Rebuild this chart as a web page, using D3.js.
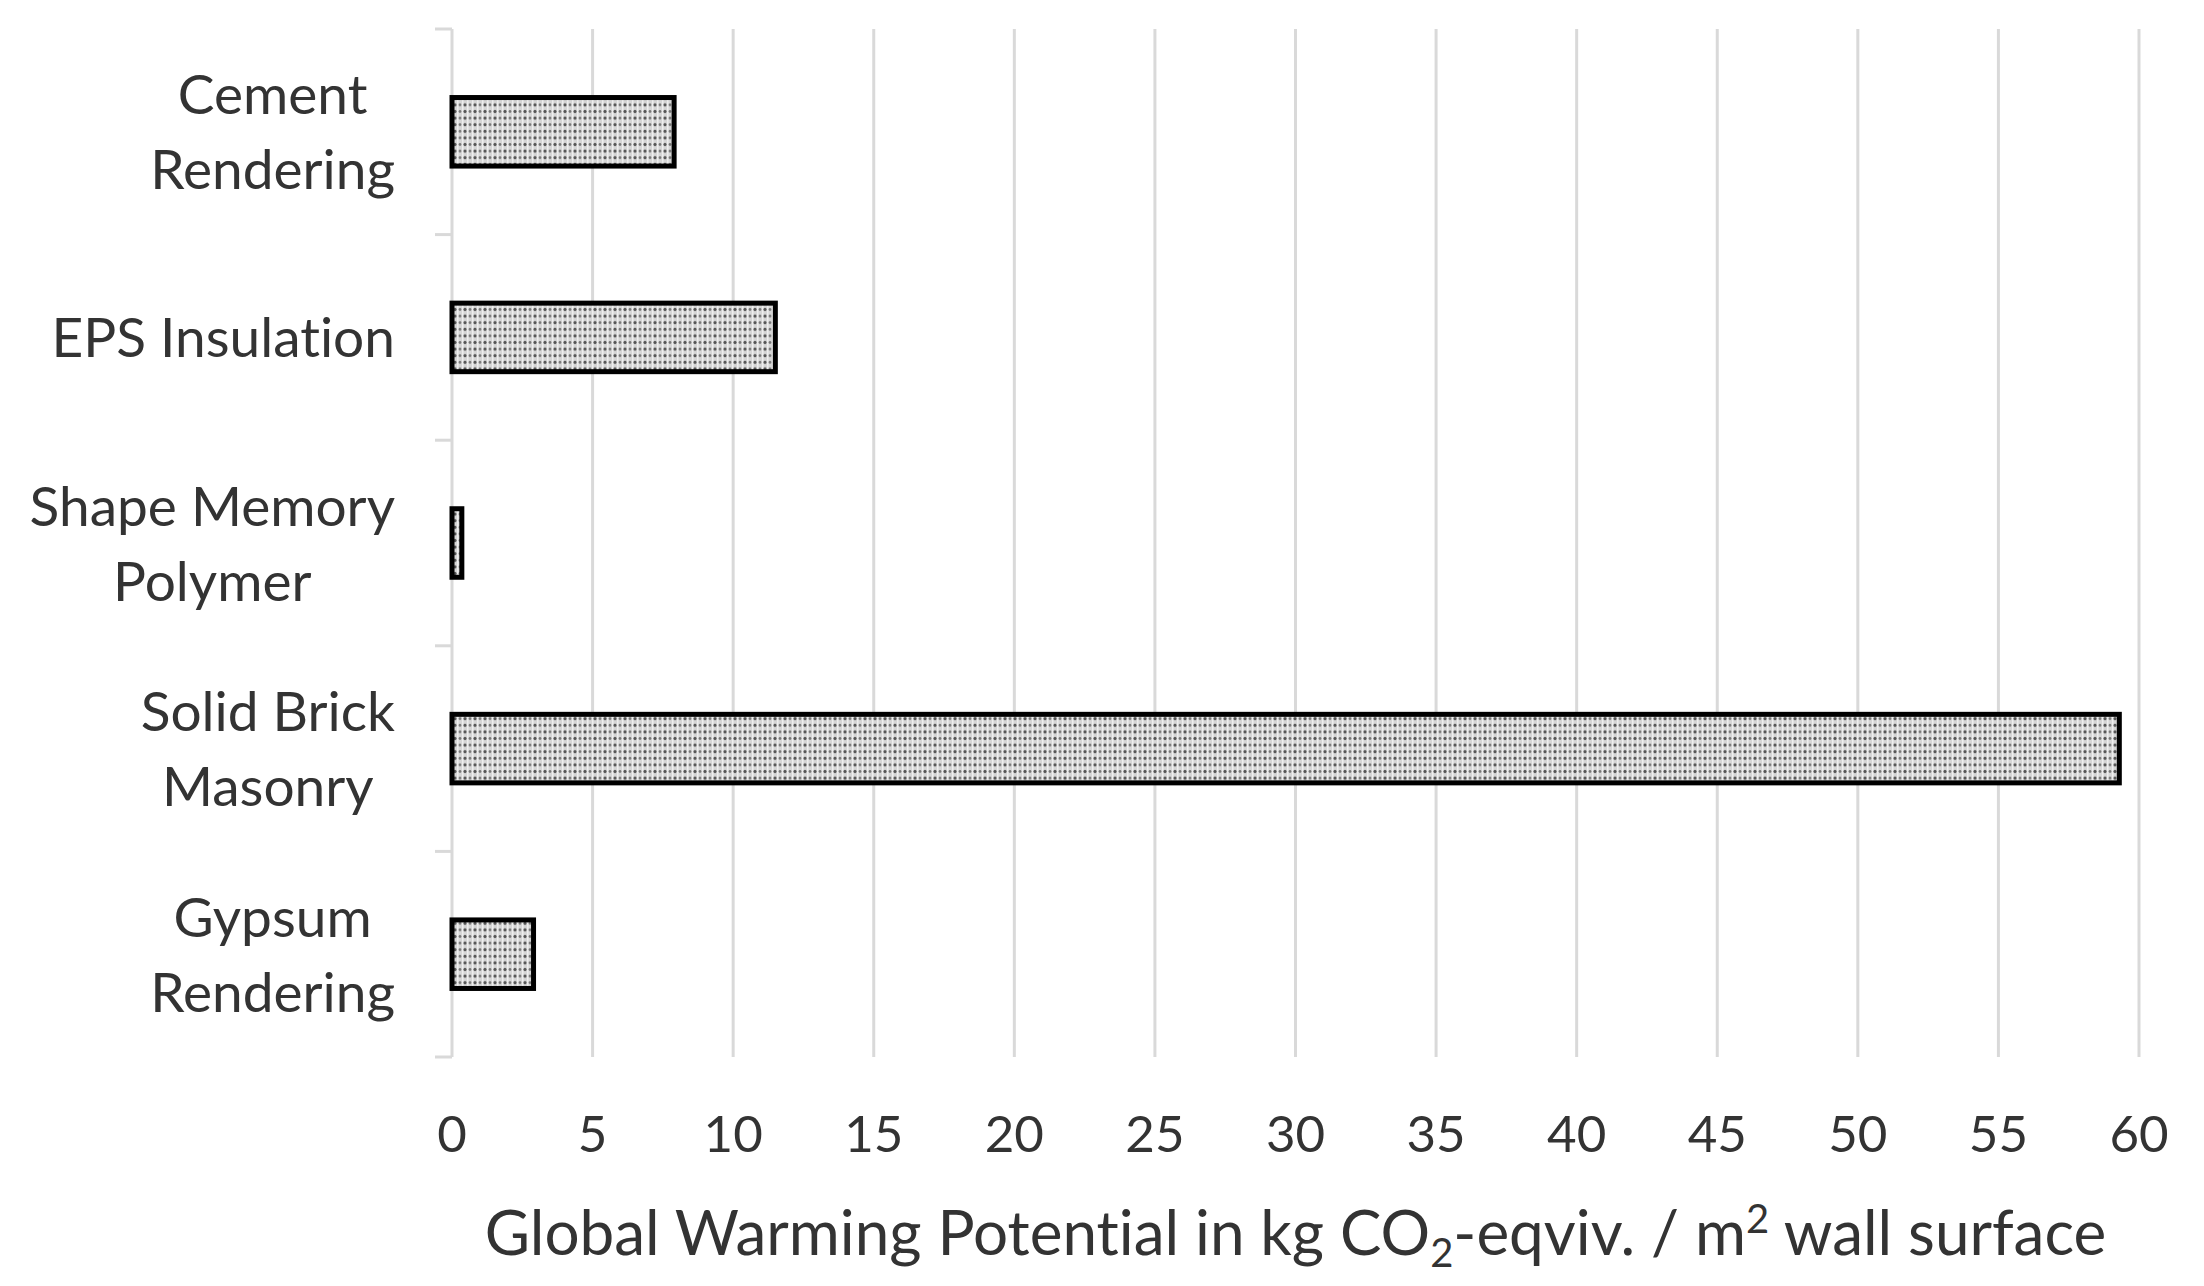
<!DOCTYPE html>
<html>
<head>
<meta charset="utf-8">
<script src="https://cdnjs.cloudflare.com/ajax/libs/d3/7.8.5/d3.min.js"></script>
<style>
  html, body { margin: 0; padding: 0; background: #ffffff; }
  svg { display: block; }
  text { font-family: Lato, "Open Sans", sans-serif; fill: #333333; font-variant-ligatures: none; }
</style>
</head>
<body>
<svg id="chart"></svg>
<script>
// data
const categories = [
  ["Cement", "Rendering"],
  ["EPS Insulation"],
  ["Shape Memory", "Polymer"],
  ["Solid Brick", "Masonry"],
  ["Gypsum", "Rendering"]
];
const gwpValues = [7.9, 11.5, 0.35, 59.3, 2.9];
const xTicks = [0, 5, 10, 15, 20, 25, 30, 35, 40, 45, 50, 55, 60];

const W = 2204, H = 1286;
const margin = { top: 29, right: 65, bottom: 229, left: 452 };
const width = W - margin.left - margin.right;
const height = H - margin.top - margin.bottom;

const svg = d3.select("#chart").attr("width", W).attr("height", H);

// dotted fill like the Excel pattern
const defs = svg.append("defs");
const pat = defs.append("pattern")
    .attr("id", "dots")
    .attr("patternUnits", "userSpaceOnUse")
    .attr("width", 10)
    .attr("height", 6.6);
pat.append("rect").attr("width", 10).attr("height", 6.6).attr("fill", "#d6d6d6");
pat.append("rect").attr("x", 0).attr("width", 1.5).attr("height", 6.6).attr("fill", "#eeeeee");
pat.append("rect").attr("x", 5).attr("width", 1.5).attr("height", 6.6).attr("fill", "#eeeeee");
pat.append("circle").attr("cx", 3).attr("cy", 3.3).attr("r", 1.6).attr("fill", "#555555");
pat.append("circle").attr("cx", 8).attr("cy", 3.3).attr("r", 1.4).attr("fill", "#777777");

const g = svg.append("g").attr("transform", `translate(${margin.left},${margin.top})`);

const x = d3.scaleLinear().domain([0, 60]).range([0, width]);
const y = d3.scaleBand()
    .domain(d3.range(categories.length))
    .range([0, height])
    .paddingInner(2 / 3)
    .paddingOuter(1 / 3);

// vertical gridlines
g.append("g")
    .selectAll("line")
    .data(xTicks.filter(d => d > 0))
    .join("line")
    .attr("x1", d => x(d)).attr("x2", d => x(d))
    .attr("y1", 0).attr("y2", height)
    .attr("stroke", "#d9d9d9")
    .attr("stroke-width", 3);

// category axis line with ticks at band boundaries
const yAxis = g.append("g");
yAxis.append("line")
    .attr("x1", 0).attr("x2", 0)
    .attr("y1", 0).attr("y2", height)
    .attr("stroke", "#d9d9d9").attr("stroke-width", 3);
yAxis.selectAll(".ytick")
    .data(d3.range(categories.length + 1))
    .join("line")
    .attr("class", "ytick")
    .attr("x1", -17).attr("x2", 0)
    .attr("y1", i => i * height / categories.length)
    .attr("y2", i => i * height / categories.length)
    .attr("stroke", "#d9d9d9").attr("stroke-width", 3);

// bars
g.append("g")
    .selectAll("rect")
    .data(gwpValues)
    .join("rect")
    .attr("x", x(0))
    .attr("y", (d, i) => y(i))
    .attr("width", d => x(d) - x(0))
    .attr("height", y.bandwidth())
    .attr("fill", "url(#dots)")
    .attr("stroke", "#000")
    .attr("stroke-width", 5);

// category labels: lines centered to each other, block right aligned
const labelRight = -57;
const lineGap = 75;
categories.forEach((lines, i) => {
    const cy = y(i) + y.bandwidth() / 2;
    const lg = g.append("g");
    const texts = lines.map((s, k) => lg.append("text")
        .attr("font-size", 55)
        .attr("text-anchor", "middle")
        .attr("y", cy + (k - (lines.length - 1) / 2) * lineGap + 20)
        .text(s));
    const blockW = d3.max(texts, t => t.node().getComputedTextLength());
    texts.forEach(t => t.attr("x", labelRight - blockW / 2));
});

// x tick labels
g.append("g")
    .selectAll("text")
    .data(xTicks)
    .join("text")
    .attr("x", d => x(d))
    .attr("y", height + 95)
    .attr("text-anchor", "middle")
    .attr("font-size", 51)
    .text(d => d);

// x axis title
const title = g.append("text")
    .attr("x", width / 2)
    .attr("y", height + 198)
    .attr("text-anchor", "middle")
    .attr("font-size", 62);
title.append("tspan").text("Global Warming Potential in kg CO");
title.append("tspan").attr("font-size", 40).attr("dy", 12).text("2");
title.append("tspan").attr("dy", -12).text("-eqviv. / m");
title.append("tspan").attr("font-size", 40).attr("dy", -22).text("2");
title.append("tspan").attr("dy", 22).text(" wall surface");
</script>
</body>
</html>
